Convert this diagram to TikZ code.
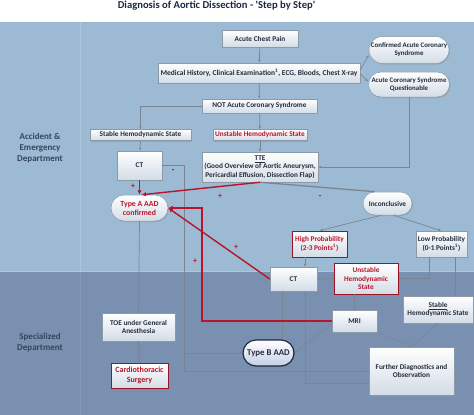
\documentclass[tikz,border=0pt]{standalone}
\usepackage{fontspec}
\setmainfont{Carlito}
\usetikzlibrary{shapes.misc,shadows,calc,arrows.meta}
\definecolor{upbg}{HTML}{9DBAD4}
\definecolor{lowbg}{HTML}{7A90B0}
\definecolor{divup}{HTML}{AEC7DD}
\definecolor{divlow}{HTML}{8599B6}
\definecolor{txt}{HTML}{232D3C}
\definecolor{labt}{HTML}{34455C}
\definecolor{redt}{HTML}{B8142A}
\definecolor{lin}{HTML}{7B8592}
\definecolor{bord}{HTML}{8C9AA8}
\definecolor{boxbot}{HTML}{D3DCE6}
\definecolor{navy}{HTML}{1B2A44}
\begin{document}
\begin{tikzpicture}[x=1pt,y=-1pt,
 box/.style={draw=bord, line width=0.5pt, top color=white, bottom color=boxbot,
   drop shadow={opacity=0.35,shadow xshift=1pt,shadow yshift=-1pt},
   align=center, inner sep=1pt, font=\fontsize{7.3}{8.3}\selectfont\bfseries, text=txt},
 rbox/.style={box, rounded rectangle},
 redtx/.style={text=redt},
 redbd/.style={draw=redt!85!black, line width=0.8pt},
 gl/.style={draw=lin, line width=0.7pt, -{Latex[length=3pt,width=2.6pt]}},
 gthick/.style={gl, line width=1.3pt},
 rl/.style={draw=redt, line width=1.4pt, -{Latex[length=4.5pt,width=4.5pt]}},
 sign/.style={font=\fontsize{8}{8}\selectfont\bfseries, inner sep=0pt},
 lab/.style={font=\fontsize{9}{11}\selectfont\bfseries, text=labt, align=center}
]
\useasboundingbox (0,0) rectangle (474,415);
% panels
\fill[white] (0,0) rectangle (474,415);
\fill[upbg] (0,22) rectangle (474,271);
\fill[lowbg] (0,271) rectangle (474,415);
\draw[divup, line width=0.6pt] (80,22) -- (80,271);
\draw[divlow, line width=0.6pt] (80,271) -- (80,415);
\draw[divup, line width=0.6pt] (0,271) -- (474,271);

\node[font=\fontsize{10.6}{12}\selectfont\bfseries, text=navy] (title) at (216.5,5.5) {Diagnosis of Aortic Dissection - \textquotesingle Step by Step\textquotesingle};
\node[lab] (lab1) at (40,148) {Accident \&\\Emergency\\Department};
\node[lab] (lab2) at (40,343) {Specialized\\Department};

% nodes
\node[box, minimum width=76pt, minimum height=17pt] (acp) at (260,38.5) {Acute Chest Pain};
\node[box, minimum width=202pt, minimum height=20pt, font=\fontsize{7.5}{8}\selectfont\bfseries] (med) at (259,73) {Medical History, Clinical Examination$^{\mathbf{1}}$, ECG, Bloods, Chest X-ray};
\node[rbox, minimum width=82pt, minimum height=27pt, font=\fontsize{6.9}{8}\selectfont\bfseries] (cacs) at (409,50) {Confirmed Acute Coronary\\Syndrome};
\node[rbox, minimum width=79pt, minimum height=25pt, font=\fontsize{6.9}{8}\selectfont\bfseries] (acsq) at (409,84.5) {Acute Coronary Syndrome\\Questionable};
\node[box, minimum width=115pt, minimum height=14pt] (notacs) at (259.5,106) {NOT Acute Coronary Syndrome};
\node[box, minimum width=101pt, minimum height=11pt] (stab1) at (140.5,135) {Stable Hemodynamic State};
\node[box, redtx, minimum width=94pt, minimum height=11pt] (unst1) at (260,135) {Unstable Hemodynamic State};
\node[box, minimum width=45pt, minimum height=29pt] (ct1) at (139.5,165.5) {CT};
\node[box, minimum width=116pt, minimum height=30pt] (tte) at (260,167) {\underline{TTE}\\(Good Overview of Aortic Aneurysm,\\Pericardial Effusion, Dissection Flap)};
\node[rbox, redtx, minimum width=59pt, minimum height=26pt, font=\fontsize{7.8}{9}\selectfont\bfseries] (typeA) at (139.5,208) {Type A AAD\\confirmed};
\node[rbox, minimum width=51pt, minimum height=23pt] (incon) at (387.5,203.5) {Inconclusive};
\node[box, redtx, redbd, minimum width=55pt, minimum height=26pt] (high) at (319.5,244) {High Probability\\(2-3 Points$^{\mathbf{1}}$)};
\node[box, minimum width=51pt, minimum height=26pt] (low) at (441.5,244) {Low Probability\\(0-1 Points$^{\mathbf{1}}$)};
\node[box, minimum width=47pt, minimum height=24pt] (ct2) at (293.5,279) {CT};
\node[box, redtx, redbd, minimum width=64pt, minimum height=31pt] (unst2) at (366,278.5) {Unstable\\Hemodynamic\\State};
\node[box, minimum width=70pt, minimum height=27pt] (stab2) at (438,309.5) {\underline{Stable}\\Hemodynamic State};
\node[box, minimum width=45pt, minimum height=22pt] (mri) at (354.5,321) {MRI};
\node[box, minimum width=73pt, minimum height=28pt] (toe) at (138.5,327) {TOE under General\\Anesthesia};
\node[rbox, draw=navy, line width=1.2pt, bottom color=blue!6!boxbot, minimum width=53pt, minimum height=26pt, font=\fontsize{8.8}{10}\selectfont\bfseries] (typeB) at (268.5,353) {Type B AAD};
\node[box, redtx, redbd, minimum width=57pt, minimum height=25pt, font=\fontsize{8}{9.4}\selectfont\bfseries] (cardio) at (139.5,375.5) {Cardiothoracic\\Surgery};
\node[box, minimum width=85pt, minimum height=48pt] (further) at (411.5,371) {Further Diagnostics and\\Observation};

\coordinate (ctx) at (184,0);
\coordinate (redx) at (202,0);

% gray connectors
\draw[gl] (acp) -- (med);
\draw[gl] ([yshift=3pt]med.east) -- ([yshift=-5pt]cacs.west);
\draw[gl] ([yshift=-1pt]med.east) -- ([yshift=3pt]acsq.west);
\draw[gl] (med) -- (notacs);
\draw[gl] (notacs.west) -| (stab1.north);
\draw[gl] (notacs) -- (unst1);
\draw[gl] (stab1) -- (ct1);
\draw[gl] (unst1) -- (tte);
\draw[gl] (acsq.south) |- (tte.east);
\draw[gl] (ct1.east) -| (ctx |- further.west) -- (further.west);
\draw[gl] (ctx |- typeB.west) -- (typeB.west);
\draw[gl] (typeA.south) -- (toe.north);
\draw[gthick] (toe.south) -- (cardio.north);
\draw[gthick] (tte.south) -- ([xshift=-12pt]incon.north);
\draw[gl] ([xshift=-6pt]incon.south) -- (high.north);
\draw[gl] ([xshift=6pt]incon.south) -- (low.north);
\draw[gl] ([xshift=-14.5pt]high.south) -- ([xshift=-14.5pt]high.south |- ct2.north);
\draw[gthick] ([xshift=-11pt]ct2.south) -- ([xshift=-11pt]ct2.south |- typeB.north);
\draw[gl] ([xshift=11.5pt]ct2.south) |- ([yshift=-12pt]further.west);
\draw[gl] (unst2.west) -- (ct2.east);
\draw[gl] ([xshift=-12.5pt]low.south) |- (unst2.east);
\draw[gl] ([xshift=14pt]low.south) -- ([xshift=14pt]low.south |- stab2.north);
\draw[gl] (mri.north |- unst2.south) -- (mri.north);
\draw[gl, line width=0.5pt] ([yshift=-3pt]mri.west) -- (typeB.east);
\draw[gl, line width=0.5pt] (mri.south east) -- (further.north);
\draw[gl] (stab2.south) -- (further.north);

% red connectors
\draw[rl] (ct1.south) -- (typeA.north);
\draw[rl] (tte.south) -- ([xshift=2pt]typeA.north);
\draw[rl] (ct2.west) -- (typeA.east);
\draw[rl] (mri.west) -| (redx |- typeA.east) -- (typeA.east);

% signs
\node[sign, text=redt] (p1) at (133,186) {+};
\node[sign, text=redt] (p2) at (220,196) {+};
\node[sign, text=redt] (p3) at (236,247) {+};
\node[sign, text=redt] (p4) at (195,261) {+};
\node[sign, text=txt] (m1) at (173,171) {-};
\node[sign, text=txt] (m2) at (320,197) {-};
\end{tikzpicture}
\end{document}
